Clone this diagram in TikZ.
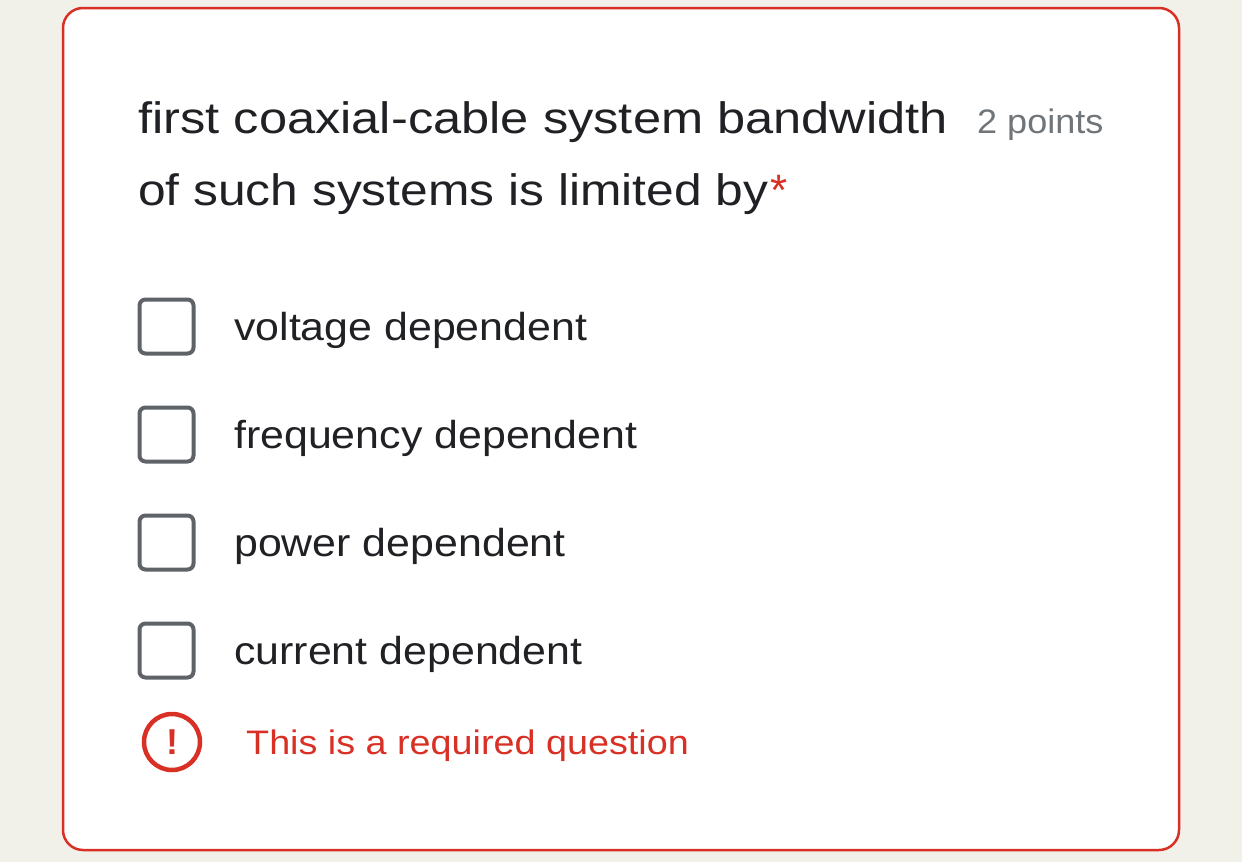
\documentclass[tikz,border=0pt]{standalone}
\usepackage{fontspec}
\usepackage{graphicx}
\setmainfont{Liberation Sans}
\definecolor{bg}{HTML}{F1F1EA}
\definecolor{gred}{HTML}{D93025}
\definecolor{ggrey}{HTML}{5F6368}
\definecolor{gtext}{HTML}{202124}
\definecolor{gpts}{HTML}{70757A}
\newcommand{\wx}[2]{\scalebox{#1}[1]{#2}}
\begin{document}
\begin{tikzpicture}[x=1pt,y=-1pt,
  qtext/.style={anchor=base west,inner sep=0,text=gtext,font=\fontsize{44}{50}\selectfont},
  opt/.style={anchor=base west,inner sep=0,text=gtext,font=\fontsize{39}{46}\selectfont},
  cbox/.style={draw=ggrey,line width=4,rounded corners=6,minimum size=54,inner sep=0}]
\fill[bg] (0,0) rectangle (1242,862);
\useasboundingbox (0,0) rectangle (1242,862);
\draw[gred,fill=white,line width=2.5,rounded corners=20] (63,8) rectangle (1179,850);
\node[qtext] (q1) at (138,133) {\wx{1.15}{first coaxial-cable system bandwidth}};
\node[anchor=base west,inner sep=0,text=gpts,font=\fontsize{34}{40}\selectfont] (pts) at (977,133) {\wx{1.06}{2 points}};
\node[qtext] (q2) at (138,205) {\wx{1.13}{of such systems is limited by}};
\node[anchor=base west,inner sep=0,text=gred,font=\fontsize{44}{50}\selectfont] (ast) at (770,205) {*};
\node[cbox] (b1) at (166.5,326.5) {};
\node[cbox] (b2) at (166.5,434.5) {};
\node[cbox] (b3) at (166.5,542.5) {};
\node[cbox] (b4) at (166.5,650.5) {};
\node[opt] (o1) at (234,340) {\wx{1.1}{voltage dependent}};
\node[opt] (o2) at (234,448) {\wx{1.1}{frequency dependent}};
\node[opt] (o3) at (234,556) {\wx{1.1}{power dependent}};
\node[opt] (o4) at (234,664) {\wx{1.1}{current dependent}};
\node[circle,draw=gred,line width=4.5,minimum size=56,inner sep=0,text=gred,font=\fontsize{36}{40}\selectfont\bfseries] (err) at (172,742) {!};
\node[anchor=base west,inner sep=0,text=gred,font=\fontsize{34}{40}\selectfont] (msg) at (246,754) {\wx{1.11}{This is a required question}};
\end{tikzpicture}
\end{document}
